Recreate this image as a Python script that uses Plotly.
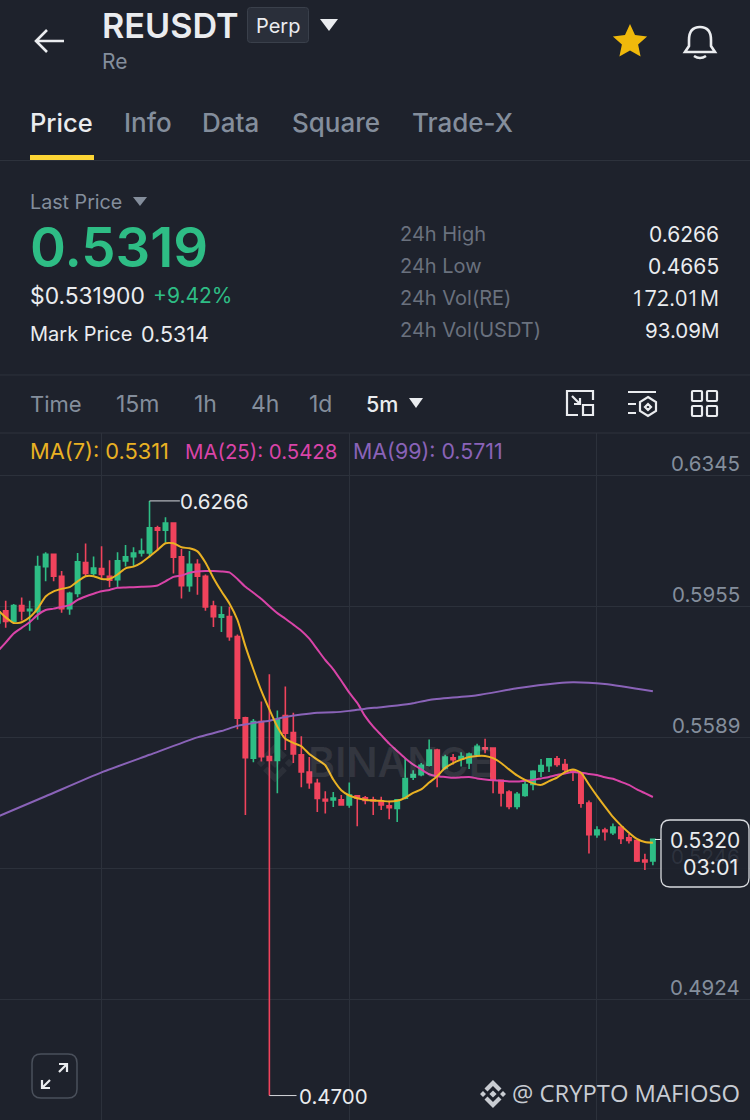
import re
import math
import plotly.graph_objects as go

BG = "#1e222c"
GRID = "#2c313b"
LINE = "#2e333d"
GREEN = "#2ebd85"
RED = "#f0435c"
GREY = "#848e9c"
DIM = "#6a717e"
WHITE = "#eaecef"
YELLOW = "#e9b123"
PINK = "#d944a8"
PURPLE = "#8a63b8"

open_ = [.5907,.5942,.5911,.5957,.5942,.5939,.6070,.6106,.6042,.5948,.5992,.6082,.6050,.6064,.6042,.6032,.6087,.6099,.6110,.6110,
         .6185,.6178,.6199,.6099,.6014,.6077,.6042,.5955,.5923,.5925,.5868,.5642,.5533,.5632,.5537,.5527,.5648,.5602,.5542,.5496,
         .5466,.5424,.5422,.5423,.5409,.5433,.5428,.5423,.5420,.5407,.5400,.5427,.5482,.5489,.5514,.5555,.5507,.5534,.5531,.5520,
         .5543,.5561,.5560,.5474,.5443,.5405,.5434,.5463,.5498,.5513,.5531,.5516,.5501,.5494,.5414,.5332,.5344,.5337,.5352,.5324,
         .5317,.5267,.5265]
high_ = [.5948,.5971,.5961,.5980,.5971,.6102,.6112,.6106,.6057,.5997,.6110,.6138,.6100,.6130,.6089,.6112,.6134,.6127,.6153,.6266,
         .6191,.6217,.6201,.6122,.6116,.6092,.6047,.5971,.5955,.5953,.5874,.5645,.5639,.5687,.5762,.5662,.5728,.5656,.5592,.5536,
         .5478,.5445,.5443,.5435,.5468,.5435,.5433,.5431,.5431,.5420,.5424,.5533,.5501,.5520,.5583,.5558,.5542,.5544,.5549,.5548,
         .5572,.5585,.5561,.5476,.5448,.5443,.5472,.5501,.5531,.5533,.5539,.5531,.5503,.5496,.5421,.5354,.5350,.5361,.5354,.5334,
         .5319,.5283,.5320]
low_ = [.5877,.5893,.5909,.5914,.5885,.5916,.6027,.6027,.5936,.5930,.5981,.6042,.6044,.6036,.6010,.6008,.6070,.6072,.6100,.6097,
        .6117,.6141,.6050,.5977,.5997,.5988,.5942,.5895,.5881,.5856,.5611,.5383,.5522,.5524,.4700,.5440,.5555,.5520,.5456,.5452,
        .5391,.5387,.5404,.5408,.5402,.5354,.5411,.5383,.5396,.5372,.5365,.5424,.5475,.5485,.5511,.5456,.5503,.5516,.5511,.5504,
        .5539,.5546,.5440,.5405,.5398,.5398,.5431,.5448,.5483,.5496,.5510,.5496,.5472,.5402,.5284,.5324,.5317,.5331,.5308,.5309,
        .5262,.5242,.5254]
close_ = [.5939,.5911,.5957,.5941,.5946,.6070,.6106,.6042,.5948,.5992,.6084,.6050,.6066,.6047,.6030,.6087,.6099,.6110,.6116,.6185,
          .6178,.6199,.6098,.6014,.6077,.6042,.5953,.5925,.5930,.5868,.5641,.5534,.5632,.5537,.5527,.5637,.5600,.5544,.5496,.5468,
          .5426,.5420,.5427,.5409,.5435,.5427,.5421,.5420,.5409,.5402,.5423,.5479,.5489,.5514,.5555,.5485,.5536,.5529,.5537,.5544,
          .5565,.5558,.5476,.5441,.5405,.5437,.5463,.5498,.5513,.5531,.5516,.5503,.5496,.5414,.5332,.5344,.5340,.5352,.5322,.5317,
          .5265,.5262,.5320]

ma7 = [.5944,.5923,.5907,.5909,.5923,.5948,.5983,.5998,.6005,.6010,.6027,.6042,.6042,.6034,.6034,.6047,.6065,.6070,.6082,.6100,
       .6119,.6139,.6139,.6127,.6124,.6115,.6082,.6037,.5998,.5963,.5916,.5841,.5776,.5716,.5665,.5618,.5585,.5574,.5565,.5544,
       .5529,.5514,.5476,.5448,.5434,.5427,.5423,.5421,.5420,.5418,.5420,.5428,.5441,.5450,.5468,.5485,.5507,.5520,.5529,.5536,
       .5539,.5539,.5533,.5520,.5503,.5487,.5475,.5466,.5462,.5472,.5481,.5496,.5503,.5494,.5463,.5433,.5405,.5378,.5356,.5337,
       .5321,.5313,.5311]
ma25 = [.5827,.5851,.5877,.5893,.5909,.5930,.5944,.5948,.5953,.5958,.5973,.5983,.5991,.5998,.6002,.6008,.6009,.6010,.6011,.6012,
        .6015,.6027,.6040,.6044,.6052,.6056,.6057,.6057,.6056,.6053,.6034,.6011,.5994,.5976,.5955,.5935,.5919,.5902,.5885,.5862,
        .5832,.5802,.5776,.5744,.5711,.5683,.5646,.5618,.5595,.5572,.5552,.5533,.5516,.5503,.5490,.5485,.5483,.5481,.5482,.5483,
        .5479,.5476,.5474,.5473,.5471,.5471,.5473,.5475,.5479,.5483,.5488,.5492,.5496,.5494,.5491,.5488,.5482,.5478,.5470,.5462,
        .5450,.5440,.5430]
ma99_idx = [0,6,13,19,25,28,30,32,34,36,38,40,42,44,46,48,50,52,54,60,65,70,72,76,82]
ma99 = [.5379,.5432,.5495,.5542,.5589,.5606,.5620,.5628,.5634,.5644,.5651,.5656,.5657,.5661,.5667,.5671,.5676,.5682,.5691,.5704,
        .5723,.5737,.5740,.5735,.5715]

price_ticks = [.6345,.5955,.5589,.5246,.4924]
price_labels = ["0.6345","0.5955","0.5589","0.5246","0.4924"]
time_ticks = [13,44,75]
candle_idx = list(range(len(open_)))

W, H = 750, 1120
FONT = "Inter"


def px(x):
    return x / W


def py(y):
    return 1 - y / H


def path(d):
    res, is_x = [], True
    for tok in re.findall(r"[MLCQZ]|-?[\d.]+", d):
        if tok in "MLCQZ":
            res.append(tok)
            is_x = True
        else:
            v = float(tok)
            res.append(f"{px(v):.5f}" if is_x else f"{py(v):.5f}")
            is_x = not is_x
    return " ".join(res)


shapes = []
annos = []


def txt(x, y, s, size, color=WHITE, anchor="left", weight=None, font=FONT):
    f = dict(family=font, size=size, color=color)
    if weight:
        f["weight"] = weight
    annos.append(dict(x=px(x), y=py(y), xref="paper", yref="paper", text=s, showarrow=False,
                      xanchor=anchor, yanchor="middle", font=f, borderpad=0, borderwidth=0))


def shp(d, fill=None, color=None, width=0, layer="above"):
    s = dict(type="path", path=path(d), xref="paper", yref="paper", layer=layer,
             line=dict(color=color or "rgba(0,0,0,0)", width=width))
    if fill:
        s["fillcolor"] = fill
    shapes.append(s)


def rrect(x0, y0, x1, y1, r):
    return (f"M {x0+r} {y0} L {x1-r} {y0} Q {x1} {y0} {x1} {y0+r} L {x1} {y1-r} Q {x1} {y1} {x1-r} {y1} "
            f"L {x0+r} {y1} Q {x0} {y1} {x0} {y1-r} L {x0} {y0+r} Q {x0} {y0} {x0+r} {y0} Z")


def logo(cx, cy, s, fill, layer="above"):
    def pts(lst):
        return "M " + " L ".join(f"{cx + a * s:.2f} {cy + b * s:.2f}" for a, b in lst) + " Z"
    d = " ".join([
        pts([(0, -3.6), (3.6, 0), (0, 3.6), (-3.6, 0)]),
        pts([(-10, -3), (-7, 0), (-10, 3), (-13, 0)]),
        pts([(10, -3), (13, 0), (10, 3), (7, 0)]),
        pts([(0, -14), (8.5, -5.5), (5.5, -2.5), (0, -8), (-5.5, -2.5), (-8.5, -5.5)]),
        pts([(0, 14), (-8.5, 5.5), (-5.5, 2.5), (0, 8), (5.5, 2.5), (8.5, 5.5)]),
    ])
    shp(d, fill=fill, layer=layer)


# header
shp("M 64 41 L 36 41 M 47 30 L 36 41 L 47 52", color=WHITE, width=2.6)
txt(102, 25, "REUSDT", 34.2, WHITE, weight=600)
shp(rrect(247.5, 7.5, 308.5, 42.5, 3), fill="#2a2f3a", color="#3a404b", width=1)
txt(278, 26, "Perp", 20, WHITE, "center")
shp("M 320 19 L 338 19 L 329 31 Z", fill=WHITE)
txt(102, 61, "Re", 21, GREY)
star = []
for i in range(10):
    r = 18 if i % 2 == 0 else 8.5
    a = -math.pi / 2 + i * math.pi / 5
    star.append(f"{'M' if i == 0 else 'L'} {630 + r * math.cos(a):.1f} {42 + r * math.sin(a):.1f}")
shp(" ".join(star) + " Z", fill="#f0b90b")
shp("M 700 27 C 691 27 689 34 689 40 L 689 46 L 685 52 L 715 52 L 711 46 L 711 40 C 711 34 709 27 700 27 Z "
    "M 694 56 Q 700 60 706 56", color=WHITE, width=2.6)

# tabs
txt(30, 123, "Price", 25.5, WHITE, weight=500)
for x, s in [(124, "Info"), (202, "Data"), (292, "Square"), (412, "Trade-X")]:
    txt(x, 123, s, 26, GREY, weight=500)
shp("M 0 160.5 L 750 160.5", color=LINE, width=1)
shp("M 30 155 L 94 155 L 94 160 L 30 160 Z", fill="#fcd535")

# stats
txt(30, 202, "Last Price", 19.7, GREY)
shp("M 133 197 L 147 197 L 140 206 Z", fill=GREY)
txt(30, 247, "0.5319", 54.5, GREEN, weight=600)
txt(30, 295, "$0.531900", 22.8, WHITE)
txt(153, 295, "+9.42%", 21, GREEN)
txt(30, 334, "Mark Price", 20, WHITE)
txt(141, 334, "0.5314", 21.5, WHITE)
for y, k, v, sz, fnt in [(234, "24h High", "0.6266", 21, FONT), (266, "24h Low", "0.4665", 21, FONT),
                         (298, "24h Vol(RE)", "172.01M", 21.7, "Open Sans"), (330, "24h Vol(USDT)", "93.09M", 20.5, FONT)]:
    txt(400, y, k, 20, DIM)
    txt(718.5, y, v, sz, WHITE, "right", font=fnt)
shp("M 0 375 L 750 375", color=LINE, width=1)
shp("M 0 433 L 750 433", color=LINE, width=1)

# interval row
txt(30, 404, "Time", 22, GREY)
for x, s in [(116, "15m"), (194, "1h"), (251, "4h"), (309, "1d")]:
    txt(x, 404, s, 23, GREY)
txt(366, 404, "5m", 21.5, WHITE, weight=500)
shp("M 409 398 L 423 398 L 416 408 Z", fill=WHITE)
shp("M 593 400 L 593 391 L 567 391 L 567 415 L 578 415 M 572 396 L 580 404 M 580 398 L 580 404 L 574 404",
    color=WHITE, width=2.2)
shp("M 583 405 L 593 405 L 593 415 L 583 415 Z", color=WHITE, width=2.2)
shp("M 628 392 L 656 392 M 628 404 L 636 404 M 628 413 L 636 413 "
    "M 648 397 L 656 402 L 656 411 L 648 416 L 640 411 L 640 402 Z "
    "M 648 404 L 651 407 L 648 410 L 645 407 Z", color=WHITE, width=2.2)
for x0, y0 in [(692, 391), (707, 391), (692, 406), (707, 406)]:
    shp(rrect(x0, y0, x0 + 10, y0 + 10, 1), color=WHITE, width=2.2)

# legend
txt(30, 451.5, "MA(7): 0.5311", 21.8, YELLOW)
txt(185, 451.5, "MA(25): 0.5428", 20.4, PINK)
txt(353, 451.5, "MA(99): 0.5711", 21.4, PURPLE)

# chart watermark
logo(275, 763, 1.4, "rgba(255,255,255,0.06)", layer="below")
txt(308, 762, "BINANCE", 41, "rgba(255,255,255,0.09)", weight=600)

# axis price labels
for y, s in zip([463, 594, 725, 987], [price_labels[0], price_labels[1], price_labels[2], price_labels[4]]):
    txt(740, y, s, 20.5, GREY, "right")
txt(740, 856, price_labels[3], 20.5, "rgba(132,142,156,0.16)", "right")

# high/low labels
txt(180, 502, "0.6266", 20.5, WHITE)
txt(299, 1096, "0.4700", 20.5, WHITE)

# last price box
shp("M 655 839.5 L 661 839.5", color=WHITE, width=1)
shp(rrect(661, 820, 749, 887, 9), fill="rgba(30,34,44,0.9)", color="#d8dade", width=1.3)
txt(740, 840, "0.5320", 21, WHITE, "right")
txt(738, 867, "03:01", 21.5, WHITE, "right")

# expand button
shp(rrect(32, 1054, 77, 1098, 9), color="#4a505b", width=1.5)
shp("M 42 1088 L 50 1080 M 42 1080 L 42 1088 L 50 1088 M 59 1072 L 67 1064 M 59 1064 L 67 1064 L 67 1072",
    color=WHITE, width=2.2)

# bottom-right mark
logo(493, 1094, 1.0, "#c9ccd2")
txt(512, 1093, "@ CRYPTO MAFIOSO", 23.8, "#c8ccd3", font="Open Sans")

fig = go.Figure()
fig.add_trace(go.Candlestick(
    x=candle_idx, open=open_, high=high_, low=low_, close=close_,
    increasing=dict(line=dict(color=GREEN, width=1.6), fillcolor=GREEN),
    decreasing=dict(line=dict(color=RED, width=1.6), fillcolor=RED),
    whiskerwidth=0, hoverinfo="skip",
))
fig.add_trace(go.Scatter(x=candle_idx, y=ma25, mode="lines", line=dict(color=PINK, width=2, shape="spline", smoothing=0.6)))
fig.add_trace(go.Scatter(x=ma99_idx, y=ma99, mode="lines", line=dict(color=PURPLE, width=2, shape="spline", smoothing=0.6)))
fig.add_trace(go.Scatter(x=candle_idx, y=ma7, mode="lines", line=dict(color=YELLOW, width=2, shape="spline", smoothing=0.6)))
# high and low leader lines
fig.add_trace(go.Scatter(x=[19, 22.8], y=[.6266, .6266], mode="lines", line=dict(color="#d5d8dc", width=1)))
fig.add_trace(go.Scatter(x=[34, 37.4], y=[.4700, .4700], mode="lines", line=dict(color="#d5d8dc", width=1)))

x_at = lambda p: (p + 2.3) / 7.99
top_log = math.log10(.6345) + 42 * 0.0004836 / math.log(10)
bot_log = math.log10(.6345) - 645 * 0.0004836 / math.log(10)

fig.update_layout(
    width=W, height=H, margin=dict(l=0, r=0, t=0, b=0),
    paper_bgcolor=BG, plot_bgcolor=BG, showlegend=False, boxgap=0.22,
    hovermode=False, font=dict(family=FONT),
    xaxis=dict(range=[x_at(0), x_at(750)], tickvals=time_ticks, showticklabels=False, showgrid=True,
               gridcolor=GRID, gridwidth=1, zeroline=False, showline=False, ticks="",
               rangeslider=dict(visible=False)),
    yaxis=dict(type="log", range=[bot_log, top_log], domain=[0, 687 / 1120], tickvals=price_ticks,
               showticklabels=False, showgrid=True, gridcolor=GRID, gridwidth=1, zeroline=False,
               showline=False, ticks=""),
    shapes=shapes, annotations=annos,
)
fig.write_html("out.html", post_script="document.body.style.margin='0';document.body.style.overflow='hidden';",
               config=dict(displayModeBar=False))
